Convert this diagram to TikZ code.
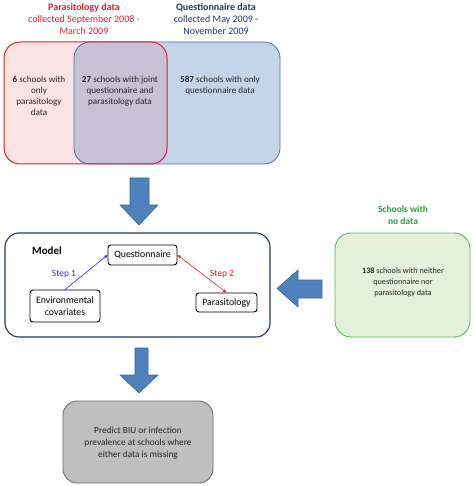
\documentclass[tikz,border=0pt]{standalone}
\usepackage{fontspec}
\setmainfont{Carlito}
\usetikzlibrary{arrows.meta}
\definecolor{pred}{HTML}{E0202E}
\definecolor{ppink}{HTML}{FCE3E3}
\definecolor{qblue}{HTML}{4A6FA5}
\definecolor{qfill}{HTML}{C5D5E9}
\definecolor{ovl}{HTML}{C8C0D4}
\definecolor{navy}{HTML}{1F3864}
\definecolor{gborder}{HTML}{5CB85C}
\definecolor{gfill}{HTML}{E3F1DA}
\definecolor{gtext}{HTML}{2E9B3E}
\definecolor{arrfill}{HTML}{4F81BD}
\definecolor{arrline}{HTML}{3B6596}
\definecolor{greyfill}{HTML}{BFBFBF}
\definecolor{greyline}{HTML}{6F6F6F}
\definecolor{stepblue}{HTML}{3030E0}
\tikzset{
  txt/.style={align=center, font=\fontsize{9.1}{10.8}\selectfont, text=black!85, inner sep=0pt},
  ttl/.style={align=center, font=\fontsize{10}{12}\selectfont, inner sep=0pt},
  smallbox/.style={draw=black, line width=0.9pt, rounded corners=3pt, fill=white, align=center,
    font=\fontsize{9.8}{11.5}\selectfont, inner sep=0pt},
  blockarrow/.style={fill=arrfill, draw=arrline, line width=0.6pt},
}
\begin{document}
\begin{tikzpicture}[x=1pt, y=-1pt]
\useasboundingbox (0,0) rectangle (474,486);
% Venn-like boxes
\fill[ppink, rounded corners=16pt] (4,42) rectangle (167,164);
\fill[qfill, rounded corners=16pt] (74,42) rectangle (280,164);
\begin{scope}
  \clip[rounded corners=16pt] (4,42) rectangle (167,164);
  \fill[ovl, rounded corners=16pt] (74,42) rectangle (280,164);
\end{scope}
\draw[qblue, line width=0.8pt, rounded corners=16pt] (74,42) rectangle (280,164);
\draw[pred, line width=1pt, rounded corners=16pt] (4,42) rectangle (167,164);

\node[ttl] (ptitle) at (84,19) {\textcolor{pred}{\textbf{Parasitology data}}\\ \textcolor{pred}{collected September 2008 -}\\ \textcolor{pred}{March 2009}};
\node[ttl] (qtitle) at (216,19) {\textcolor{navy}{\textbf{Questionnaire data}}\\ \textcolor{navy}{collected May 2009 -}\\ \textcolor{navy}{November 2009}};

\node[txt] (only6) at (39,96) {\textbf{6} schools with\\ only\\ parasitology\\ data};
\node[txt] (joint27) at (120,91) {\textbf{27} schools with joint\\ questionnaire and\\ parasitology data};
\node[txt] (only587) at (220,85.5) {\textbf{587} schools with only\\ questionnaire data};

% down arrow 1
\draw[blockarrow] (130,178) -- (149,178) -- (149,205) -- (158,205) -- (139,225) -- (120,205) -- (130,205) -- cycle;

% Model box
\draw[navy, line width=1.1pt, rounded corners=14pt, fill=white] (5,233) rectangle (270,337);
\node[font=\fontsize{11}{13}\selectfont\bfseries, inner sep=0pt, anchor=west] (model) at (32,251) {Model};
\node[smallbox, minimum width=69pt, minimum height=20pt] (quest) at (142.5,255) {Questionnaire};
\node[smallbox, minimum width=70pt, minimum height=32pt] (env) at (65,306) {Environmental\\ covariates};
\node[smallbox, minimum width=61pt, minimum height=19pt] (para) at (226.5,302.5) {Parasitology};
\draw[stepblue, line width=0.6pt, -{Stealth[length=4pt,width=3.5pt]}] (env.north) -- (quest.west);
\draw[pred, line width=0.6pt, {Stealth[length=4pt,width=3.5pt]}-{Stealth[length=4pt,width=3.5pt]}] (quest.east) -- (para.north);
\node[font=\fontsize{9.5}{11}\selectfont, text=stepblue, inner sep=0pt] (step1) at (64,274) {Step 1};
\node[font=\fontsize{9.5}{11}\selectfont, text=pred, inner sep=0pt] (step2) at (222,274) {Step 2};

% left arrow
\draw[blockarrow] (322,280) -- (322,298) -- (298,298) -- (298,307) -- (277,288.5) -- (298,270) -- (298,280) -- cycle;

% Green box
\node[ttl, text=gtext, font=\fontsize{9.5}{12}\selectfont\bfseries] (notitle) at (403,215) {Schools with\\ no data};
\draw[gborder, line width=0.9pt, rounded corners=16pt, fill=gfill] (335,233) rectangle (470,337);
\node[txt, font=\fontsize{8.2}{11}\selectfont] (nodata) at (403,282) {\textbf{138} schools with neither\\ questionnaire nor\\ parasitology data};

% down arrow 2
\draw[blockarrow] (135,348) -- (148,348) -- (148,375) -- (158,375) -- (139,393) -- (120,375) -- (135,375) -- cycle;

% Grey box
\draw[greyline, line width=0.9pt, rounded corners=14pt, fill=greyfill] (63,401) rectangle (213,483);
\node[txt, font=\fontsize{9.3}{12}\selectfont] (predict) at (138,443) {Predict BIU or infection\\ prevalence at schools where\\ either data is missing};
\end{tikzpicture}
\end{document}
